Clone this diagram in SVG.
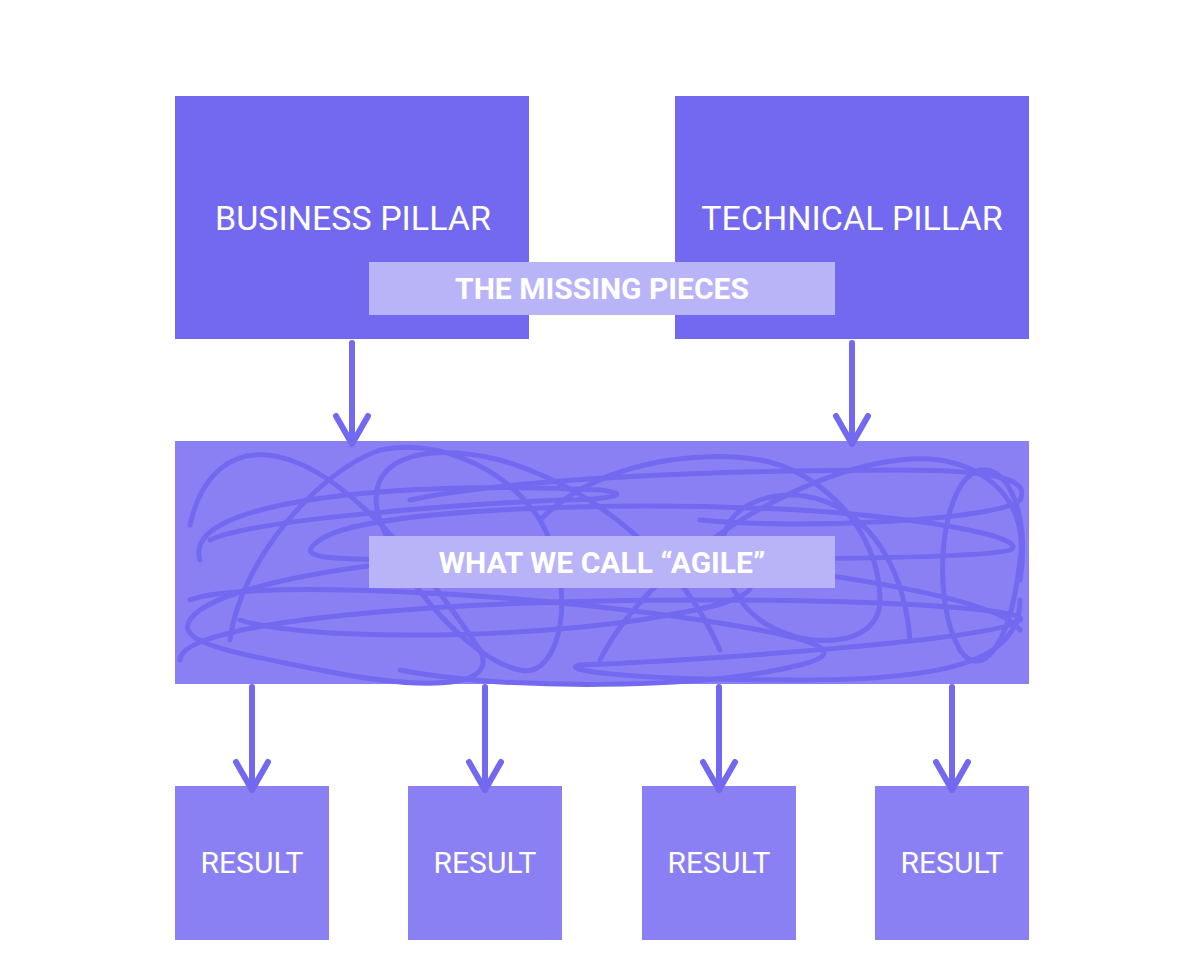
<svg xmlns="http://www.w3.org/2000/svg" width="1200" height="975" viewBox="0 0 1200 975">
<style>
.dark{fill:#7269F0}
.light{fill:#8A80F3}
.bar{fill:#B9B4F8}
.t{font-family:Roboto,"Liberation Sans",sans-serif;fill:#fff;text-anchor:middle}
.big{font-size:34px}
.bold{font-size:30px;font-weight:bold}
.res{font-size:30px}
.arr{stroke:#7269F0;stroke-width:6;fill:none;stroke-linecap:round;stroke-linejoin:round}
.scr{stroke:#7269F0;stroke-width:5;fill:none;stroke-linecap:round}
</style>
<rect width="1200" height="975" fill="#fff"/>
<g id="business"><rect class="dark" x="175" y="96" width="354" height="243"/><text class="t big" x="353" y="230">BUSINESS PILLAR</text></g>
<g id="technical"><rect class="dark" x="675" y="96" width="354" height="243"/><text class="t big" x="852" y="230">TECHNICAL PILLAR</text></g>
<g id="missing"><rect class="bar" x="369" y="262" width="466" height="53"/><text class="t bold" x="602" y="299">THE MISSING PIECES</text></g>
<g id="agile"><rect class="light" x="175" y="441" width="854" height="243"/>
<g class="scr">
<path d="M190 525 C200 480 230 440 290 460 C350 480 420 560 480 650 C500 690 420 690 320 670 C220 650 160 640 200 610 C260 570 500 540 700 560 C850 575 1000 600 1020 630"/>
<path d="M200 560 C180 500 400 480 600 490 C640 495 600 500 560 500 C450 505 250 520 210 540"/>
<path d="M230 640 C240 560 320 470 380 450 C430 440 500 460 540 520 C580 590 560 680 520 670 C470 660 400 580 380 520 C360 460 420 440 500 460 C600 490 680 560 720 650"/>
<path d="M320 540 C360 510 600 500 800 510 C950 520 1030 540 1010 550 C980 560 700 560 450 560 C330 560 290 560 320 540"/>
<path d="M180 660 C180 620 450 600 700 600 C900 600 1030 610 1020 620 C1000 640 700 660 580 665 C560 668 600 680 800 680 C950 680 1020 660 1020 600"/>
<path d="M600 660 C650 560 800 470 900 460 C980 450 1030 500 1020 560 C1010 650 980 680 960 650 C930 600 940 480 980 470 C1010 465 1030 520 1020 580"/>
<path d="M540 520 C600 460 700 450 760 460 C820 470 880 530 880 600 C880 650 800 650 760 620 C720 590 700 520 760 500 C820 480 900 520 910 640"/>
<path d="M190 600 C240 580 500 590 700 620 C800 635 860 650 800 665 C700 690 500 690 400 670"/>
<path d="M410 500 C500 480 700 470 900 470 C1000 470 1030 480 1020 500 C1000 520 800 530 700 520"/>
<path d="M240 620 C300 640 500 640 640 620 C700 610 760 600 750 580"/>
</g>
<rect class="bar" x="369" y="536" width="466" height="52"/><text class="t bold" x="602" y="573">WHAT WE CALL “AGILE”</text></g>
<g id="r1"><rect class="light" x="175" y="786" width="154" height="154"/><text class="t res" x="252" y="873">RESULT</text></g>
<g id="r2"><rect class="light" x="408" y="786" width="154" height="154"/><text class="t res" x="485" y="873">RESULT</text></g>
<g id="r3"><rect class="light" x="642" y="786" width="154" height="154"/><text class="t res" x="719" y="873">RESULT</text></g>
<g id="r4"><rect class="light" x="875" y="786" width="154" height="154"/><text class="t res" x="952" y="873">RESULT</text></g>
<g id="connectors" class="arr">
<path d="M352 343 V444 M336 416 L352 444 L368 416"/>
<path d="M852 343 V444 M836 416 L852 444 L868 416"/>
<path d="M252 687 V790 M236 762 L252 790 L268 762"/>
<path d="M485 687 V790 M469 762 L485 790 L501 762"/>
<path d="M719 687 V790 M703 762 L719 790 L735 762"/>
<path d="M952 687 V790 M936 762 L952 790 L968 762"/>
</g>
</svg>
